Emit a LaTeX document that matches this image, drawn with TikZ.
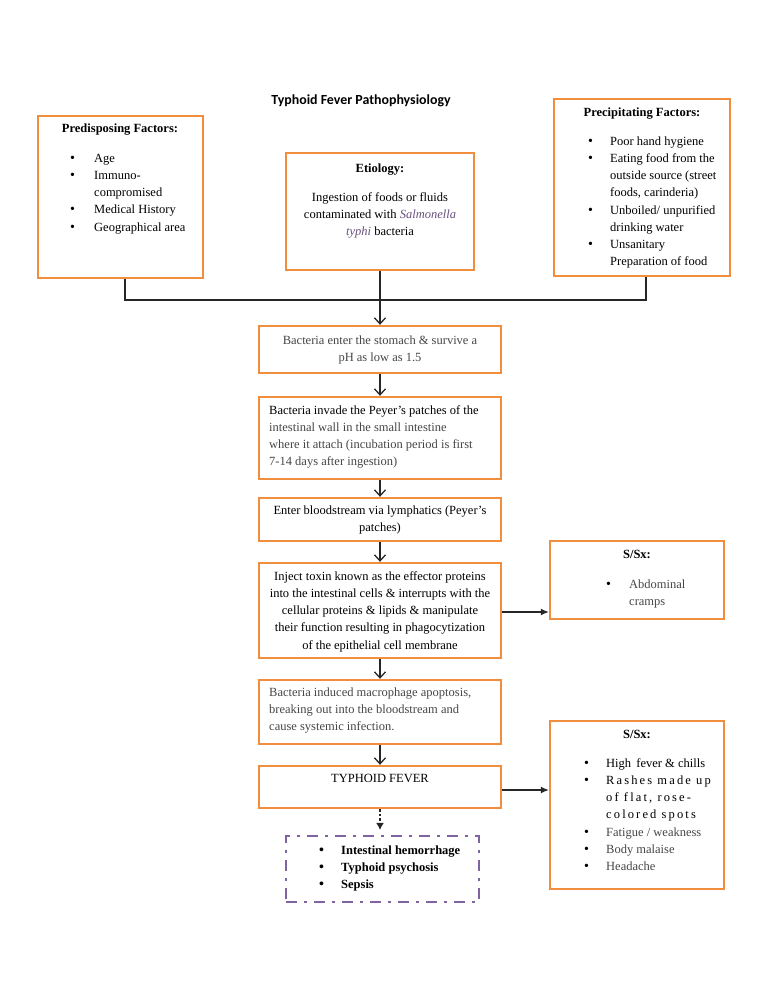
\documentclass[tikz,border=0pt]{standalone}
\usepackage{fontspec}
\setmainfont{Liberation Serif}
\newfontfamily\ttlfont{Carlito}
\usetikzlibrary{arrows.meta}
\definecolor{boxorange}{RGB}{240,142,62}
\definecolor{cplpurple}{RGB}{128,100,162}
\definecolor{txtgray}{RGB}{70,70,70}
\definecolor{salmo}{RGB}{105,80,125}
\newcommand\tb{\fontsize{12.5}{17.2}\selectfont}
\newcommand\bul{{\fontsize{14}{14}\selectfont\textbullet}}
\newcommand\blist[2]{\begin{tabular}[t]{@{}p{#1}@{}l@{}}#2\end{tabular}}
\newcommand\clines[1]{\begin{tabular}[t]{@{}c@{}}#1\end{tabular}}
\newcommand\llines[1]{\begin{tabular}[t]{@{}l@{}}#1\end{tabular}}
\tikzset{
  obox/.style={draw=boxorange, line width=2.4pt, rectangle, inner sep=0pt},
  txt/.style={inner sep=0pt, font=\tb, anchor=north},
  hdr/.style={inner sep=0pt, font=\tb\bfseries, anchor=base},
  txtl/.style={inner sep=0pt, font=\tb, anchor=north west},
  varrow/.style={draw=black!85, line width=1.2pt, -{Straight Barb[length=6pt,width=11pt,line width=1.3pt]}},
  harrow/.style={draw=black!85, line width=1.2pt, -{Latex[length=8pt,width=7pt]}},
  plainline/.style={draw=black!85, line width=1.2pt},
}
\begin{document}
\begin{tikzpicture}[x=1pt,y=-1pt]
\useasboundingbox (0,0) rectangle (768,994);

% title
\node[inner sep=0pt, anchor=base, font=\ttlfont\bfseries\fontsize{13.9}{16}\selectfont] (title) at (361,104) {Typhoid Fever Pathophysiology};

% boxes
\node[obox, minimum width=165pt, minimum height=162pt] (pre) at (120.5,197) {};
\node[obox, minimum width=188pt, minimum height=117pt] (eti) at (380,211.5) {};
\node[obox, minimum width=176pt, minimum height=177pt] (prec) at (642,187.5) {};
\node[obox, minimum width=242pt, minimum height=47pt] (stom) at (380,349.5) {};
\node[obox, minimum width=242pt, minimum height=82pt] (inv) at (380,438) {};
\node[obox, minimum width=242pt, minimum height=43pt] (blood) at (380,519.5) {};
\node[obox, minimum width=242pt, minimum height=95pt] (inj) at (380,610.5) {};
\node[obox, minimum width=242pt, minimum height=64pt] (mac) at (380,712) {};
\node[obox, minimum width=242pt, minimum height=42pt] (tf) at (380,787) {};
\node[obox, minimum width=174pt, minimum height=78pt] (sx1) at (637,580) {};
\node[obox, minimum width=174pt, minimum height=168pt] (sx2) at (637,805) {};
\node[draw=cplpurple, line width=2.2pt, dash pattern=on 11pt off 7pt on 3pt off 7pt, minimum width=193pt, minimum height=66pt, inner sep=0pt] (cmp) at (382.5,869) {};

% texts
\node[hdr] (preT) at (120,132.3) {Predisposing Factors:};
\node[txtl] (preL) at (69.8,150.1) {\blist{24.2pt}{\bul & Age\\ \bul & Immuno-\\ & compromised\\ \bul & Medical History\\ \bul & Geographical area}};

\node[hdr] (etiT) at (380,172.3) {Etiology:};
\node[txt] (etiL) at (380,189) {\clines{Ingestion of foods or fluids\\ contaminated with \textcolor{salmo}{\itshape Salmonella}\\ \textcolor{salmo}{\itshape typhi} bacteria}};

\node[hdr] (precT) at (642,116.3) {Precipitating Factors:};
\node[txtl] (precL) at (587.8,133) {\blist{22.2pt}{\bul & Poor hand hygiene\\ \bul & Eating food from the\\ & outside source (street\\ & foods, carinderia)\\ \bul & Unboiled/ unpurified\\ & drinking water\\ \bul & Unsanitary\\ & Preparation of food}};

\node[txt, text=txtgray] (stomT) at (380,332) {\clines{Bacteria enter the stomach \& survive a\\ pH as low as 1.5}};
\node[txtl, text=txtgray] (invT) at (269,402) {\llines{\textcolor{black}{Bacteria invade the Peyer's patches of the}\\ intestinal wall in the small intestine\\ where it attach (incubation period is first\\ 7-14 days after ingestion)}};
\node[txt] (bloodT) at (380,502) {\clines{Enter bloodstream via lymphatics (Peyer's\\ patches)}};
\node[txt] (injT) at (380,568) {\clines{Inject toxin known as the effector proteins\\ into the intestinal cells \& interrupts with the\\ cellular proteins \& lipids \& manipulate\\ their function resulting in phagocytization\\ of the epithelial cell membrane}};
\node[txtl, text=txtgray] (macT) at (269,684) {\llines{Bacteria induced macrophage apoptosis,\\ breaking out into the bloodstream and\\ cause systemic infection.}};
\node[hdr, font=\tb] (tfT) at (380,782.3) {TYPHOID FEVER};

\node[hdr] (sx1T) at (637,558.3) {S/Sx:};
\node[txtl] (sx1L) at (605.8,576) {\blist{23.2pt}{\bul & \textcolor{txtgray}{Abdominal}\\ & \textcolor{txtgray}{cramps}}};

\node[hdr] (sx2T) at (637,738.3) {S/Sx:};
\node[txtl] (sx2L) at (583.8,755) {\blist{22.2pt}{\bul & High\, fever \& chills\\ \bul & {\addfontfeature{LetterSpace=17}Rashes made up}\\ & {\addfontfeature{LetterSpace=17}of flat, rose-}\\ & {\addfontfeature{LetterSpace=17}colored spots}\\ \bul & \textcolor{txtgray}{Fatigue / weakness}\\ \bul & \textcolor{txtgray}{Body malaise}\\ \bul & \textcolor{txtgray}{Headache}}};

\node[txtl, font=\tb\bfseries] (cmpL) at (318.8,842) {\blist{22.2pt}{\bul & Intestinal hemorrhage\\ \bul & Typhoid psychosis\\ \bul & Sepsis}};

% connectors
\coordinate (j1) at (125,300);
\coordinate (j2) at (646,300);
\draw[plainline] (pre.south -| j1) -- (j1) -- (j2) -- (prec.south -| j2);
\draw[varrow] (eti.south) -- (stom.north);
\draw[varrow] (stom.south) -- (inv.north);
\draw[varrow] (inv.south) -- (blood.north);
\draw[varrow] (blood.south) -- (inj.north);
\draw[varrow] (inj.south) -- (mac.north);
\draw[varrow] (mac.south) -- (tf.north);
\draw[harrow] ([yshift=-1.5pt]inj.east) -- ([yshift=-1.5pt]inj.east -| sx1.west);
\draw[harrow] ([yshift=-3pt]tf.east) -- ([yshift=-3pt]tf.east -| sx2.west);
\draw[draw=black!85, line width=1.3pt, dash pattern=on 2.5pt off 2pt, -{Latex[length=7pt,width=8pt]}, shorten >=5pt] (tf.south) -- (tf.south |- cmp.north);
\end{tikzpicture}
\end{document}
